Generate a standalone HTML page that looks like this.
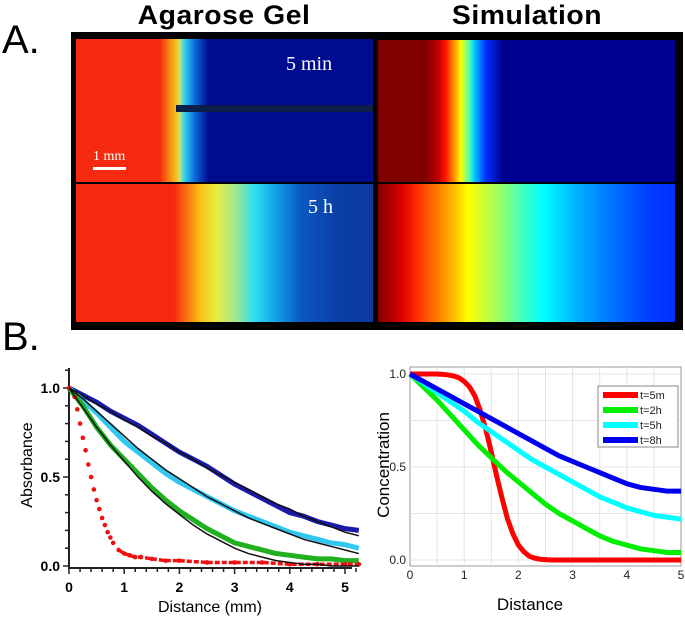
<!DOCTYPE html>
<html><head><meta charset="utf-8"><style>
body{margin:0;width:685px;height:617px;background:#fff;position:relative;overflow:hidden;font-family:"Liberation Sans",sans-serif}
.abs{position:absolute}
.hd{font-weight:bold;font-size:27px;letter-spacing:0.5px;transform:scaleX(1.05)}
</style></head><body>
<div class="abs" style="left:2px;top:18px;font-size:40px">A.</div>
<div class="abs hd" style="left:130px;top:0px;width:188px;text-align:center">Agarose Gel</div>
<div class="abs hd" style="left:443px;top:0px;width:168px;text-align:center">Simulation</div>
<div class="abs" style="left:2px;top:315px;font-size:40px">B.</div>

<div class="abs" style="left:71px;top:32px;width:612px;height:298px;background:#000"></div>
<div class="abs" style="left:76px;top:39px;width:297px;height:143px;background:linear-gradient(90deg,#f52a10 0,#f52a10 84px,#f77a10 92px,#f4c020 100px,#c8e070 104px,#30d8f0 108px,#1070e0 118px,#000c8f 132px,#000c8f 100%)">
  <div class="abs" style="left:100px;top:66px;width:197px;height:7px;background:#0b1f4a"></div>
  <div class="abs" style="left:210px;top:14px;color:#fff;font-family:'Liberation Serif',serif;font-size:20px">5 min</div>
  <div class="abs" style="left:17px;top:110px;color:#fff;font-family:'Liberation Serif',serif;font-size:14px">1 mm</div>
  <div class="abs" style="left:17px;top:128px;width:33px;height:3px;background:#fff"></div>
</div>
<div class="abs" style="left:76px;top:184px;width:297px;height:138px;background:linear-gradient(90deg,#f52a10 0,#f52a10 98px,#f77a10 112px,#f8c418 125px,#e8ec40 140px,#a0e890 160px,#30e0f0 178px,#10a0e8 200px,#0a58c0 225px,#0a40a8 260px,#0a3aa0 100%)">
  <div class="abs" style="left:232px;top:12px;color:#fff;font-family:'Liberation Serif',serif;font-size:20px">5 h</div>
</div>
<div class="abs" style="left:378px;top:40px;width:297px;height:142px;background:linear-gradient(90deg,#800000 0,#800000 47px,#c00000 60px,#ff1000 67px,#ff8000 75px,#ffff00 83px,#40ffc0 92px,#00c0ff 97px,#0030ff 108px,#000090 125px,#000090 100%)"></div>
<div class="abs" style="left:378px;top:184px;width:297px;height:138px;background:linear-gradient(90deg,#800000 0,#e00000 25px,#ff3000 40px,#ff9000 65px,#ffd000 80px,#ffff00 90px,#a0ff60 120px,#40ffc0 145px,#00ffff 165px,#00b0ff 200px,#0070ff 235px,#0040ff 270px,#0030ff 100%)"></div>

<svg class="abs" style="left:0;top:0" width="685" height="617" id="charts"></svg>
<script>
// Left chart data (Absorbance vs Distance mm)
const xsStep = [0,0.25,0.5,0.75,1,1.25,1.5,1.75,2,2.25,2.5,2.75,3,3.25,3.5,3.75,4,4.25,4.5,4.75,5,5.25];
const absBlue = [1,.96,.92,.87,.83,.79,.74,.69,.64,.6,.56,.51,.46,.42,.38,.34,.3,.28,.25,.23,.21,.2];
const absCyan = [1,.93,.86,.78,.7,.64,.58,.52,.47,.43,.39,.35,.31,.28,.25,.22,.19,.17,.15,.13,.12,.1];
const absGreen = [1,.9,.78,.68,.6,.52,.44,.37,.31,.26,.21,.17,.13,.11,.09,.07,.06,.05,.04,.04,.03,.03];
const redX = [0,0.1,0.15,0.2,0.25,0.3,0.35,0.4,0.45,0.5,0.55,0.6,0.65,0.7,0.75,0.8,0.9,1,1.1,1.2,1.3,1.5,1.75,2,2.5,3,3.5,4,4.5,5,5.25];
const absRed = [1,.95,.88,.8,.72,.65,.57,.5,.43,.37,.32,.27,.23,.19,.16,.13,.09,.07,.06,.05,.05,.04,.03,.03,.02,.02,.02,.01,.01,.01,.01];
const fitBlue = [1,.96,.91,.87,.82,.78,.73,.69,.64,.6,.55,.51,.47,.43,.39,.35,.32,.28,.25,.22,.19,.17];
const fitCyan = [1,.94,.87,.8,.73,.66,.6,.54,.49,.44,.39,.35,.31,.27,.24,.21,.18,.15,.13,.11,.09,.07];
const fitGreen = [1,.89,.78,.68,.59,.5,.42,.35,.29,.23,.18,.14,.1,.07,.05,.03,.02,.01,.01,0,0,0];
const leftXTicks = [0,1,2,3,4,5];
const leftYTicks = [0,0.5,1];
const leftYLabels = ["0.0","0.5","1.0"];
// Right chart data (Concentration vs Distance)
const simX = [0,0.25,0.5,0.75,1,1.25,1.5,1.75,2,2.25,2.5,2.75,3,3.25,3.5,3.75,4,4.25,4.5,4.75,5];
const simRedX = [0,0.3,0.5,0.6,0.7,0.8,0.9,1,1.1,1.2,1.3,1.4,1.5,1.6,1.7,1.8,1.9,2,2.1,2.2,2.3,2.4,2.6,3,4,5];
const simRed = [1,1,1,.998,.995,.99,.98,.96,.93,.88,.8,.7,.58,.45,.33,.22,.14,.08,.045,.02,.01,.004,0,0,0,0];
const simGreen = [1,.93,.86,.78,.7,.62,.55,.48,.42,.36,.3,.25,.21,.17,.13,.1,.08,.06,.05,.04,.04];
const simCyan = [1,.95,.9,.85,.8,.74,.69,.64,.59,.54,.5,.46,.42,.38,.34,.31,.28,.26,.24,.23,.22];
const simBlue = [1,.96,.92,.88,.84,.8,.76,.72,.68,.64,.6,.56,.53,.5,.47,.44,.41,.39,.38,.37,.37];
const legendLabels = ["t=5m","t=2h","t=5h","t=8h"];
const rightXTicks = [0,1,2,3,4,5];
const rightYTicks = [0,0.5,1];
const rightYLabels = ["0.0","0.5","1.0"];

const svg = document.getElementById('charts');
const NS = 'http://www.w3.org/2000/svg';
function mk(tag, attrs, parent){const e=document.createElementNS(NS,tag);for(const k in attrs)e.setAttribute(k,attrs[k]);(parent||svg).appendChild(e);return e;}
const lx = v => 69 + v*55.2;
const ly = v => 566 - v*178;
function pts(xs, ys, fx, fy){return xs.map((x,i)=>fx(x)+','+fy(ys[i])).join(' ');}
let e;
e=mk('line',{x1:69,y1:368,x2:69,y2:568,stroke:'#222','stroke-width':2});


e=mk('line',{x1:68,y1:568,x2:352,y2:568,stroke:'#222','stroke-width':2});


for(let i=0;i<=26;i++){const x=lx(i*0.2);const t=mk('line',{x1:x,y1:568,x2:x,y2:i%5==0?574:572,stroke:'#222','stroke-width':1.5});}
for(let i=0;i<=11;i++){const y=ly(i*0.1);const t=mk('line',{x1:i%5==0?63:65,y1:y,x2:69,y2:y,stroke:'#222','stroke-width':1.5});}
leftXTicks.forEach(v=>{const t=mk('text',{x:lx(v),y:592,'text-anchor':'middle','font-size':14,'font-weight':'bold','font-family':'Liberation Sans'});t.textContent=v;});
leftYTicks.forEach((v,i)=>{const t=mk('text',{x:60,y:ly(v)+5,'text-anchor':'end','font-size':14,'font-weight':'bold','font-family':'Liberation Sans'});t.textContent=leftYLabels[i];});
e=mk('text',{x:210,y:612,'text-anchor':'middle','font-size':16,'font-family':'Liberation Sans'});e.textContent='Distance (mm)';


e=mk('text',{x:0,y:0,'text-anchor':'middle','font-size':16,'font-family':'Liberation Sans',transform:'translate(32,465) rotate(-90)'});e.textContent='Absorbance';


[[absBlue,'#1a1aa8','data-blue'],[absCyan,'#30c8f0','data-cyan'],[absGreen,'#20b020','data-green']].forEach(s=>{
  const p=mk('polyline',{points:pts(xsStep,s[0],lx,ly),fill:'none',stroke:s[1],'stroke-width':5,'stroke-linejoin':'round'});
  
  
});
redX.forEach((x,i)=>{const c=mk('circle',{cx:lx(x),cy:ly(absRed[i]),r:2.3,fill:'#f01010'});});
const redLine=mk('polyline',{points:pts(redX.slice(16),absRed.slice(16),lx,ly),fill:'none',stroke:'#f01010','stroke-width':3.5,'stroke-dasharray':'5 2'});


[[fitBlue,'fit-blue'],[fitCyan,'fit-cyan'],[fitGreen,'fit-green']].forEach(s=>{
  const p=mk('polyline',{points:pts(xsStep,s[0],lx,ly),fill:'none',stroke:'#111','stroke-width':1.5});
  
  
});
// Right chart
const rx = v => 410 + v*54.2;
const ry = v => 560 - v*186;
e=mk('rect',{x:410,y:367,width:271,height:199,fill:'#fff',stroke:'#999','stroke-width':1});


for(let i=1;i<10;i++){const g=mk('line',{x1:rx(i*0.5),y1:367,x2:rx(i*0.5),y2:566,stroke:'#e4e4e4','stroke-width':1});}
for(let i=0;i<=4;i++){const g=mk('line',{x1:410,y1:ry(i*0.25),x2:681,y2:ry(i*0.25),stroke:'#e4e4e4','stroke-width':1});}
rightXTicks.forEach(v=>{const t=mk('text',{x:rx(v),y:579,'text-anchor':'middle','font-size':12,'font-family':'Liberation Sans',fill:'#222'});t.textContent=v;});
rightYTicks.forEach((v,i)=>{const t=mk('text',{x:406,y:ry(v)+4,'text-anchor':'end','font-size':12,'font-family':'Liberation Sans',fill:'#222'});t.textContent=rightYLabels[i];});
e=mk('text',{x:530,y:610,'text-anchor':'middle','font-size':17,'font-family':'Liberation Sans'});e.textContent='Distance';


e=mk('text',{x:0,y:0,'text-anchor':'middle','font-size':17,'font-family':'Liberation Sans',transform:'translate(389,465) rotate(-90)'});e.textContent='Concentration';


const simSeries=[[simRedX,simRed,'#ff0000','sim-red'],[simX,simGreen,'#00ee00','sim-green'],[simX,simCyan,'#00ffff','sim-cyan'],[simX,simBlue,'#0000ee','sim-blue']];
simSeries.forEach(s=>{
  const p=mk('polyline',{points:pts(s[0],s[1],rx,ry),fill:'none',stroke:s[2],'stroke-width':5,'stroke-linejoin':'round'});
  
  
});
e=mk('rect',{x:598,y:386,width:80,height:61,fill:'#fff',stroke:'#888','stroke-width':1});


legendLabels.forEach((l,i)=>{
  const y=395+i*15;
  const ln=mk('line',{x1:603,y1:y,x2:638,y2:y,stroke:simSeries[i][2],'stroke-width':6});
  
  
  const t=mk('text',{x:640,y:y+4,'font-size':11,'font-family':'Liberation Sans',fill:'#222'});t.textContent=l;
  
  
});
</script>
</body></html>
